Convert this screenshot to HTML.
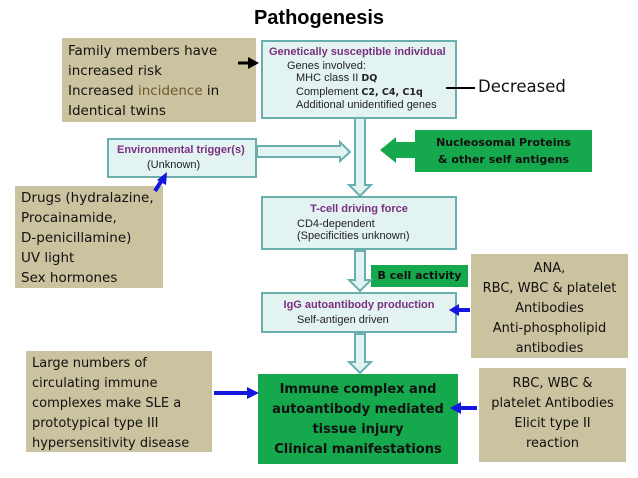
<!DOCTYPE html>
<html><head><meta charset="utf-8"><style>
body{margin:0;width:638px;height:478px;background:#fff;position:relative;overflow:hidden;font-family:"DejaVu Sans","Liberation Sans",sans-serif;}
.a{position:absolute;box-sizing:border-box;white-space:nowrap;}
.tan{background:#cbc3a0;color:#111;font-size:13.5px;line-height:20px;padding:2px 6px;}
.cy{background:#e3f3f2;border:2px solid #6aaeae;font-family:"Liberation Sans",sans-serif;font-size:11px;line-height:12.5px;color:#222;}
.h{color:#7a2f7f;font-weight:bold;font-size:11px;}
.gr{background:#16a84c;color:#111;font-weight:bold;text-align:center;}
</style></head><body>
<div class="a" style="left:0;top:7px;width:638px;text-align:center;font-weight:bold;font-size:20px;font-family:'Liberation Sans',sans-serif;">Pathogenesis</div>
<div class="a tan" style="left:62px;top:38px;width:194px;height:84px;padding-top:3px;">Family members have<br>increased risk<br>Increased <span style="color:#6b5a2a">incidence</span> in<br>Identical twins</div>
<div class="a cy" style="left:261px;top:40px;width:196px;height:79px;padding:4px 0 0 6px;"><div class="h">Genetically susceptible individual</div><div style="padding-left:18px;margin-top:1px">Genes involved:<div style="padding-left:9px">MHC class II <b style="font-family:'DejaVu Sans';font-size:9.5px">DQ</b><br>Complement <b style="font-family:'DejaVu Sans';font-size:9.5px">C2, C4, C1q</b><br>Additional unidentified genes</div></div></div>
<div class="a" style="left:478px;top:77px;font-size:16.5px;color:#111;">Decreased</div>
<div class="a cy" style="left:107px;top:138px;width:150px;height:40px;padding:4px 0 0 8px;"><div class="h">Environmental trigger(s)</div><div style="padding-left:30px;margin-top:2px">(Unknown)</div></div>
<div class="a gr" style="left:415px;top:130px;width:177px;height:42px;font-size:11px;line-height:17px;padding-top:4px;">Nucleosomal Proteins<br>&amp; other self antigens</div>
<div class="a tan" style="left:15px;top:186px;width:148px;height:102px;padding-top:2px;">Drugs (hydralazine,<br>Procainamide,<br>D-penicillamine)<br>UV light<br>Sex hormones</div>
<div class="a cy" style="left:261px;top:196px;width:196px;height:54px;padding:5px 0 0 0;"><div class="h" style="text-align:center">T-cell driving force</div><div style="padding-left:34px;margin-top:2px">CD4-dependent<br>(Specificities unknown)</div></div>
<div class="a gr" style="left:371px;top:265px;width:97px;height:22px;font-size:11px;line-height:22px;">B cell activity</div>
<div class="a cy" style="left:261px;top:292px;width:196px;height:41px;padding:5px 0 0 0;"><div class="h" style="text-align:center">IgG autoantibody production</div><div style="padding-left:34px;margin-top:2px">Self-antigen driven</div></div>
<div class="a tan" style="left:471px;top:254px;width:157px;height:104px;text-align:center;padding:5px 0 0 0;font-size:13px;">ANA,<br>RBC, WBC &amp; platelet<br>Antibodies<br>Anti-phospholipid<br>antibodies</div>
<div class="a tan" style="left:26px;top:351px;width:186px;height:101px;padding-top:3px;font-size:13px;">Large numbers of<br>circulating immune<br>complexes make SLE a<br>prototypical type III<br>hypersensitivity disease</div>
<div class="a gr" style="left:258px;top:374px;width:200px;height:90px;font-size:13px;line-height:20px;padding-top:6px;">Immune complex and<br>autoantibody mediated<br>tissue injury<br>Clinical manifestations</div>
<div class="a tan" style="left:479px;top:368px;width:147px;height:94px;text-align:center;padding:6px 0 0 0;font-size:13px;">RBC, WBC &amp;<br>platelet Antibodies<br>Elicit type II<br>reaction</div>
<svg class="a" style="left:0;top:0;z-index:5" width="638" height="478">
<g fill="#e3f3f2" stroke="#6aaeae" stroke-width="2">
<polygon points="355,118 365,118 365,185 371,185 360,196 349,185 355,185"/>
<polygon points="257,146 340,146 340,142 350,152 340,161 340,157 257,157"/>
<polygon points="355,251 365,251 365,280 371,280 360,291 349,280 355,280"/>
<polygon points="355,334 365,334 365,362 371,362 360,373 349,362 355,362"/>
</g>
<polygon points="380,150 396,137 396,142 415,142 415,158 396,158 396,163" fill="#16a84c"/>
<line x1="238" y1="63" x2="250" y2="63" stroke="#000" stroke-width="3"/><polygon points="248,57 259,63 248,69" fill="#000"/>
<line x1="446" y1="88" x2="475" y2="88" stroke="#000" stroke-width="2"/>
<g fill="#1515e0" stroke="#1515e0">
<line x1="155" y1="191" x2="162" y2="180" stroke-width="4"/><polygon points="157,180 167,172 166,185" stroke="none"/>
<line x1="470" y1="310" x2="458" y2="310" stroke-width="4"/><polygon points="459,304 449,310 459,316" stroke="none"/>
<line x1="214" y1="393" x2="248" y2="393" stroke-width="4"/><polygon points="247,387 259,393 247,399" stroke="none"/>
<line x1="477" y1="408" x2="460" y2="408" stroke-width="4"/><polygon points="461,402 450,408 461,414" stroke="none"/>
</g>
</svg>
</body></html>
